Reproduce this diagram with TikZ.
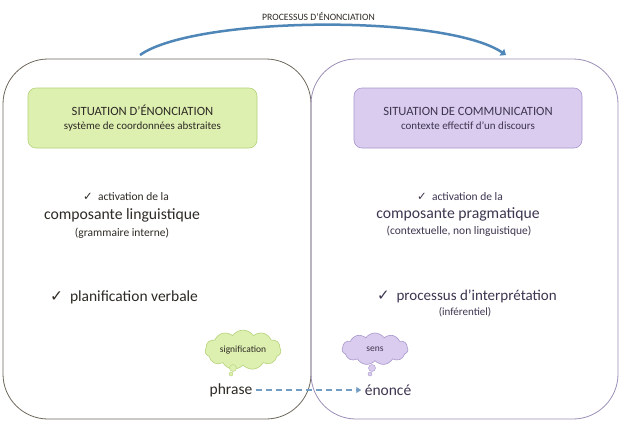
\documentclass[tikz,border=0pt]{standalone}
\usepackage{fontspec}
\setmainfont{Carlito}
\newfontfamily\chk{DejaVu Sans}
\newcommand{\ck}{{\chk\char"2713}}
\usetikzlibrary{shapes.symbols,arrows.meta}
\definecolor{frameL}{HTML}{6E675C}
\definecolor{frameR}{HTML}{9C8FB8}
\definecolor{gfill}{HTML}{DDF0B0}
\definecolor{gdraw}{HTML}{B5D27A}
\definecolor{pfill}{HTML}{D9CCEE}
\definecolor{pdraw}{HTML}{A898CC}
\definecolor{arc}{HTML}{4F86B8}
\definecolor{txt}{HTML}{2E2A25}
\definecolor{txtp}{HTML}{3E3550}
\begin{document}
\begin{tikzpicture}[x=1pt,y=-1pt,
 big/.style={draw, line width=0.8pt, rounded corners=45pt},
 head/.style={rounded corners=8pt, line width=0.6pt, align=center, text=txt, font=\fontsize{12.6}{15}\selectfont},
 t/.style={text=txt, align=center},
 cl/.style={cloud, cloud puffs=11, cloud puff arc=110, aspect=2.2, line width=0.6pt, inner sep=1pt, font=\fontsize{9.5}{10}\selectfont, text=txt}]
\useasboundingbox (0,0) rectangle (624,437);
\fill[white] (0,0) rectangle (624,437);
\draw[big, frameL] (3,59) rectangle (311,419);
\draw[big, frameR] (311,59) rectangle (618,419);
\node[head, draw=gdraw, fill=gfill, minimum width=229pt, minimum height=60pt] (g) at (142.5,118) {SITUATION D’ÉNONCIATION\\[-1pt] \fontsize{11}{13}\selectfont système de coordonnées abstraites};
\node[head, draw=pdraw, fill=pfill, minimum width=228pt, minimum height=60pt, text=txtp] (p) at (468,118) {SITUATION DE COMMUNICATION\\[-1pt] \fontsize{11}{13}\selectfont contexte effectif d’un discours};
\node[t, font=\fontsize{9.7}{11}\selectfont] (top) at (318.5,16) {PROCESSUS D’ÉNONCIATION};
\coordinate (a1) at (140,55);
\coordinate (a2) at (506,55);
\draw[arc, line width=2.5pt, -{Triangle[length=5pt,width=8pt]}] (a1) .. controls (195,16) and (445,14) .. (a2);
\node[t, font=\fontsize{11.5}{13}\selectfont] (l0) at (126,197) {\ck\ \ activation de la};
\node[t, font=\fontsize{15.7}{18}\selectfont] (l1) at (122,215) {composante linguistique};
\node[t, font=\fontsize{11.5}{13}\selectfont] (l1b) at (122,233) {(grammaire interne)};
\node[t, font=\fontsize{11.5}{13}\selectfont, text=txtp] (r0) at (460,197) {\ck\ \ activation de la};
\node[t, font=\fontsize{15.7}{18}\selectfont, text=txtp] (r1) at (458,214) {composante pragmatique};
\node[t, font=\fontsize{11.5}{13}\selectfont, text=txtp] (r1b) at (459,231) {(contextuelle, non linguistique)};
\node[t, font=\fontsize{15.5}{18}\selectfont] (l2) at (124,297) {\ck\ \ planification verbale};
\node[t, font=\fontsize{15}{18}\selectfont, text=txtp] (r2) at (467,296) {\ck\ \ processus d’interprétation};
\node[t, font=\fontsize{11}{13}\selectfont, text=txtp] (r2b) at (465,312) {(inférentiel)};
\node[cl, draw=gdraw, fill=gfill, minimum width=76pt, minimum height=32pt] (c1) at (243,350) {signification};
\node[cl, draw=pdraw, fill=pfill, minimum width=66pt, minimum height=32pt, text=txtp] (c2) at (375,349) {sens};
\draw[gdraw, fill=gfill] (233,368) circle (3.5pt);
\draw[gdraw, fill=gfill] (231,374) circle (2pt);
\draw[pdraw, fill=pfill] (372,368) circle (3.5pt);
\draw[pdraw, fill=pfill] (370,374) circle (2pt);
\node[t, font=\fontsize{15.5}{18}\selectfont] (ph) at (231,390) {phrase};
\node[t, font=\fontsize{15.5}{18}\selectfont, text=txtp] (en) at (388,390) {énoncé};
\draw[arc!80, line width=1.6pt, dash pattern=on 6pt off 4pt, -{Triangle[length=5pt,width=6pt]}] (ph) -- (en);
\end{tikzpicture}
\end{document}
